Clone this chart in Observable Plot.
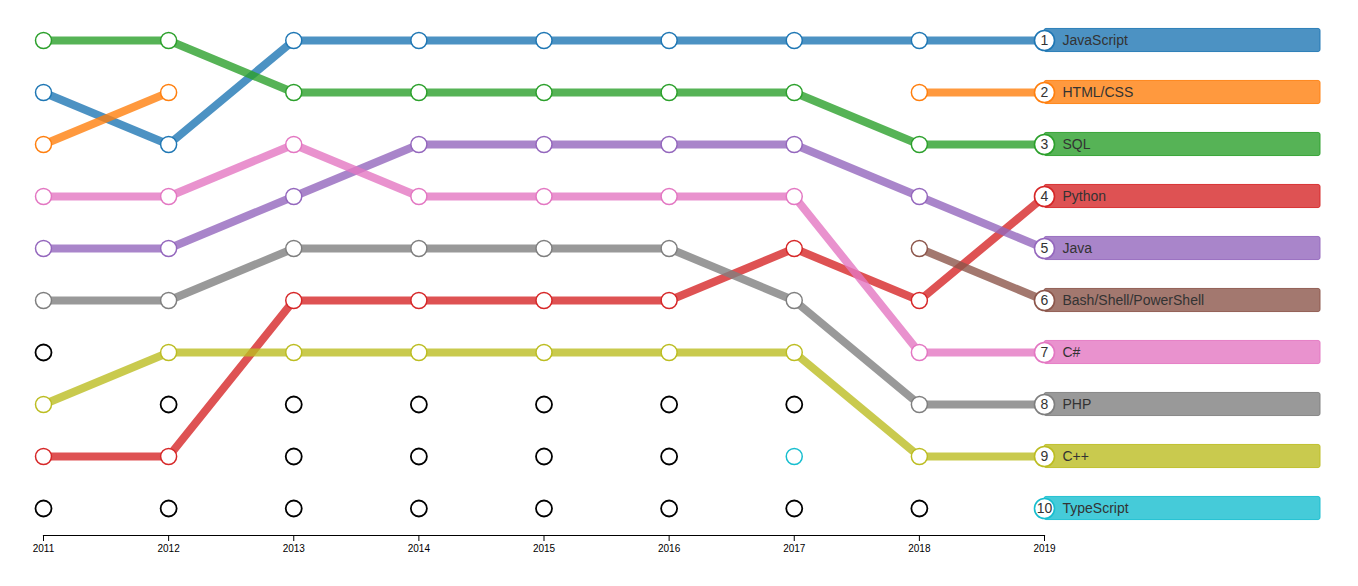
<!DOCTYPE html>
<html>
<head>
<meta charset="utf-8">
<script src="https://cdn.jsdelivr.net/npm/d3@7"></script>
<script src="https://cdn.jsdelivr.net/npm/@observablehq/plot@0.6"></script>
<style>
  html, body { margin: 0; padding: 0; background: #fff; }
</style>
</head>
<body>
<div id="chart"></div>
<script>
// ---- data ----
const years = [2011, 2012, 2013, 2014, 2015, 2016, 2017, 2018, 2019];
const languages = ["JavaScript", "HTML/CSS", "SQL", "Python", "Java",
  "Bash/Shell/PowerShell", "C#", "PHP", "C++", "TypeScript"];
const colors = ["#1f77b4", "#ff7f0e", "#2ca02c", "#d62728", "#9467bd",
  "#8c564b", "#e377c2", "#7f7f7f", "#bcbd22", "#17becf"];

// rank per year (2011..2019); null = not in the list that year
const rankJavaScript = [2, 3, 1, 1, 1, 1, 1, 1, 1];
const rankHTMLCSS    = [3, 2, null, null, null, null, null, 2, 2];
const rankSQL        = [1, 1, 2, 2, 2, 2, 2, 3, 3];
const rankPython     = [9, 9, 6, 6, 6, 6, 5, 6, 4];
const rankJava       = [5, 5, 4, 3, 3, 3, 3, 4, 5];
const rankBash       = [null, null, null, null, null, null, null, 5, 6];
const rankCSharp     = [4, 4, 3, 4, 4, 4, 4, 7, 7];
const rankPHP        = [6, 6, 5, 5, 5, 5, 6, 8, 8];
const rankCpp        = [8, 7, 7, 7, 7, 7, 7, 9, 9];
const rankTypeScript = [null, null, null, null, null, null, 9, null, 10];
// ranks held by languages outside the 2019 top ten
const otherRanks = [[7, 10], [8, 10], [8, 9, 10], [8, 9, 10], [8, 9, 10], [8, 9, 10], [8, 10], [10], []];

const rankSeries = [rankJavaScript, rankHTMLCSS, rankSQL, rankPython, rankJava,
  rankBash, rankCSharp, rankPHP, rankCpp, rankTypeScript];

// ---- table ----
const rows = [];
languages.forEach((language, i) => {
  years.forEach((year, j) => {
    const r = rankSeries[i][j];
    rows.push({language, year, rank: r == null ? NaN : r});
  });
});
const lastYear = years[years.length - 1];
const dotRows = rows.filter(d => Number.isFinite(d.rank) && d.year < lastYear);
const labelRows = rows.filter(d => Number.isFinite(d.rank) && d.year === lastYear);
const otherRows = [];
years.forEach((year, j) => otherRanks[j].forEach(rank => otherRows.push({year, rank})));

// layout constants
const labelBarEnd = lastYear + 2.206;
const barHalf = 0.222;

const chart = Plot.plot({
  width: 1358,
  height: 586,
  marginLeft: 43,
  marginRight: 314,
  marginTop: 40,
  marginBottom: 51,
  style: {fontFamily: "'Liberation Sans', Arial, sans-serif", fontSize: "10px", background: "#fff"},
  x: {domain: [years[0], lastYear], range: [43, 1044], label: null},
  y: {domain: [1, 10], range: [40, 508], axis: null},
  color: {domain: languages, range: colors},
  marks: [
    Plot.line(rows, {x: "year", y: "rank", z: "language", stroke: "language",
      strokeWidth: 8, strokeOpacity: 0.8, strokeLinejoin: "round"}),
    Plot.dot(otherRows, {x: "year", y: "rank", r: 8, fill: "white", stroke: "black", strokeWidth: 1.8}),
    Plot.dot(dotRows, {x: "year", y: "rank", r: 8, fill: "white", stroke: "language", strokeWidth: 1.5}),
    Plot.rect(labelRows, {x1: "year", x2: () => labelBarEnd,
      y1: d => d.rank - barHalf, y2: d => d.rank + barHalf,
      fill: "language", fillOpacity: 0.8, stroke: "language", strokeOpacity: 0.9, strokeWidth: 1, rx: 2}),
    Plot.dot(labelRows, {x: "year", y: "rank", r: 10, fill: "white", stroke: "language", strokeWidth: 1.6}),
    Plot.text(labelRows, {x: "year", y: "rank", text: d => String(d.rank), fontSize: 14, fill: "#333"}),
    Plot.text(labelRows, {x: "year", y: "rank", text: "language", dx: 18, textAnchor: "start", fontSize: 14, fill: "#333"}),
    Plot.frame({anchor: "bottom", stroke: "black", strokeWidth: 1.2}),
    Plot.axisX({ticks: years, tickFormat: "d", tickSize: 6, fontSize: 10, label: null, stroke: "black", fill: "black"})
  ]
});
document.getElementById("chart").appendChild(chart);
</script>
</body>
</html>
